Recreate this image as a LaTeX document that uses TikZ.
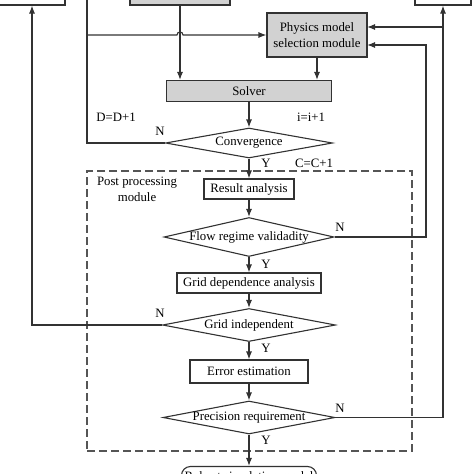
\documentclass[tikz,border=0pt]{standalone}
\usepackage{fontspec}
\setmainfont{Liberation Serif}
\usetikzlibrary{arrows.meta,shapes.geometric}

\definecolor{linec}{RGB}{50,50,50}
\definecolor{boxgray}{RGB}{210,210,210}
\definecolor{dashc}{RGB}{85,85,85}

\tikzset{
	box/.style={draw=linec, line width=1.1pt, rectangle, inner sep=0pt, fill=white},
	gbox/.style={box, fill=boxgray},
	decision/.style={draw=linec, line width=1.1pt, diamond, inner sep=0pt, fill=white},
	module/.style={draw=dashc, line width=1.1pt, dash pattern=on 8pt off 4pt},
	flow/.style={draw=linec, line width=1.1pt},
	tag/.style={inner sep=1pt, text=black}
}

\begin{document}
\begin{tikzpicture}[x=1pt, y=-1pt, font=\fontsize{12.8}{16}\selectfont, >={Latex[length=8pt,width=6pt]}]
	\useasboundingbox (0,0) rectangle (474,474);
	\clip (0,0) rectangle (474,474);

	% Post processing module
	\node[module, minimum width=325pt, minimum height=280pt] (post) at (249.5,311) {};
	\node[tag, align=center] (postlabel) at (137,189) {Post processing\\module};

	% Top boxes (cut off by the frame)
	\node[box, minimum width=66pt, minimum height=40pt] (topl) at (32,-15) {};
	\node[gbox, minimum width=100pt, minimum height=40pt] (topc) at (180,-15) {};
	\node[box, minimum width=56pt, minimum height=40pt] (topr) at (443,-15) {};

	% Physics model and solver
	\node[gbox, minimum width=100pt, minimum height=44pt, align=center] (phys) at (317,35) {Physics model\\selection module};
	\node[gbox, minimum width=165pt, minimum height=21pt] (solver) at (249,91) {Solver};

	% Decisions and steps
	\node[decision, minimum width=167pt, minimum height=30pt, label=center:Convergence] (conv) at (249,143) {};
	\node[box, minimum width=90pt, minimum height=20pt] (result) at (249,189) {Result analysis};
	\node[decision, minimum width=170pt, minimum height=39pt, label=center:{Flow regime validadity}] (regime) at (249,237) {};
	\node[box, minimum width=144pt, minimum height=20pt] (griddep) at (249,283) {Grid dependence analysis};
	\node[decision, minimum width=173pt, minimum height=33pt, label=center:{Grid independent}] (gridind) at (249,325) {};
	\node[box, minimum width=118pt, minimum height=23pt] (error) at (249,371.5) {Error estimation};
	\node[decision, minimum width=172pt, minimum height=33pt, label=center:{Precision requirement}] (prec) at (249,417.5) {};
	\node[box, rounded corners=9pt, minimum width=135pt, minimum height=20pt] (robust) at (249,476.5) {Robust simulation model};

	% Free ends
	\coordinate (dj) at (87,35);
	\coordinate (pin1) at (367,27);
	\coordinate (pin2) at (367,45);
	\coordinate (rj) at (443,27);

	% Main chain
	\draw[flow, ->] (topc.south) -- (topc.south |- solver.north);
	\draw[flow, ->] (phys.south) -- (phys.south |- solver.north);
	\draw[flow, ->] (solver.south) -- (conv.north);
	\draw[flow, ->] (conv.south) -- (result.north);
	\draw[flow, ->] (result.south) -- (regime.north);
	\draw[flow, ->] (regime.south) -- (griddep.north);
	\draw[flow, ->] (griddep.south) -- (gridind.north);
	\draw[flow, ->] (gridind.south) -- (error.north);
	\draw[flow, ->] (error.south) -- (prec.north);
	\draw[flow, ->] (prec.south) -- (robust.north);

	% Feedback loops
	\draw[flow] (conv.west) -- (87,143) -- (87,-5);
	\draw[flow, ->] (dj) -- (177,35) .. controls (177,31) and (183,31) .. (183,35) -- (phys.west);
	\draw[flow, ->] (regime.east) -- (426,237) -- (426,45) -- (pin2);
	\draw[flow, ->] (prec.east) -| (topr.south);
	\draw[flow, ->] (rj) -- (pin1);
	\draw[flow, ->] (gridind.west) -| (topl.south);

	% Labels
	\node[tag] (dcount) at (116,117) {D=D+1};
	\node[tag] (icount) at (311,117) {i=i+1};
	\node[tag] (ccount) at (314,163) {C=C+1};
	\node[tag] (convn) at (160,131) {N};
	\node[tag] (convy) at (266,163) {Y};
	\node[tag] (regimen) at (340,227) {N};
	\node[tag] (regimey) at (266,264) {Y};
	\node[tag] (gridn) at (160,313) {N};
	\node[tag] (gridy) at (266,348) {Y};
	\node[tag] (precn) at (340,408) {N};
	\node[tag] (precy) at (266,440) {Y};
\end{tikzpicture}
\end{document}
